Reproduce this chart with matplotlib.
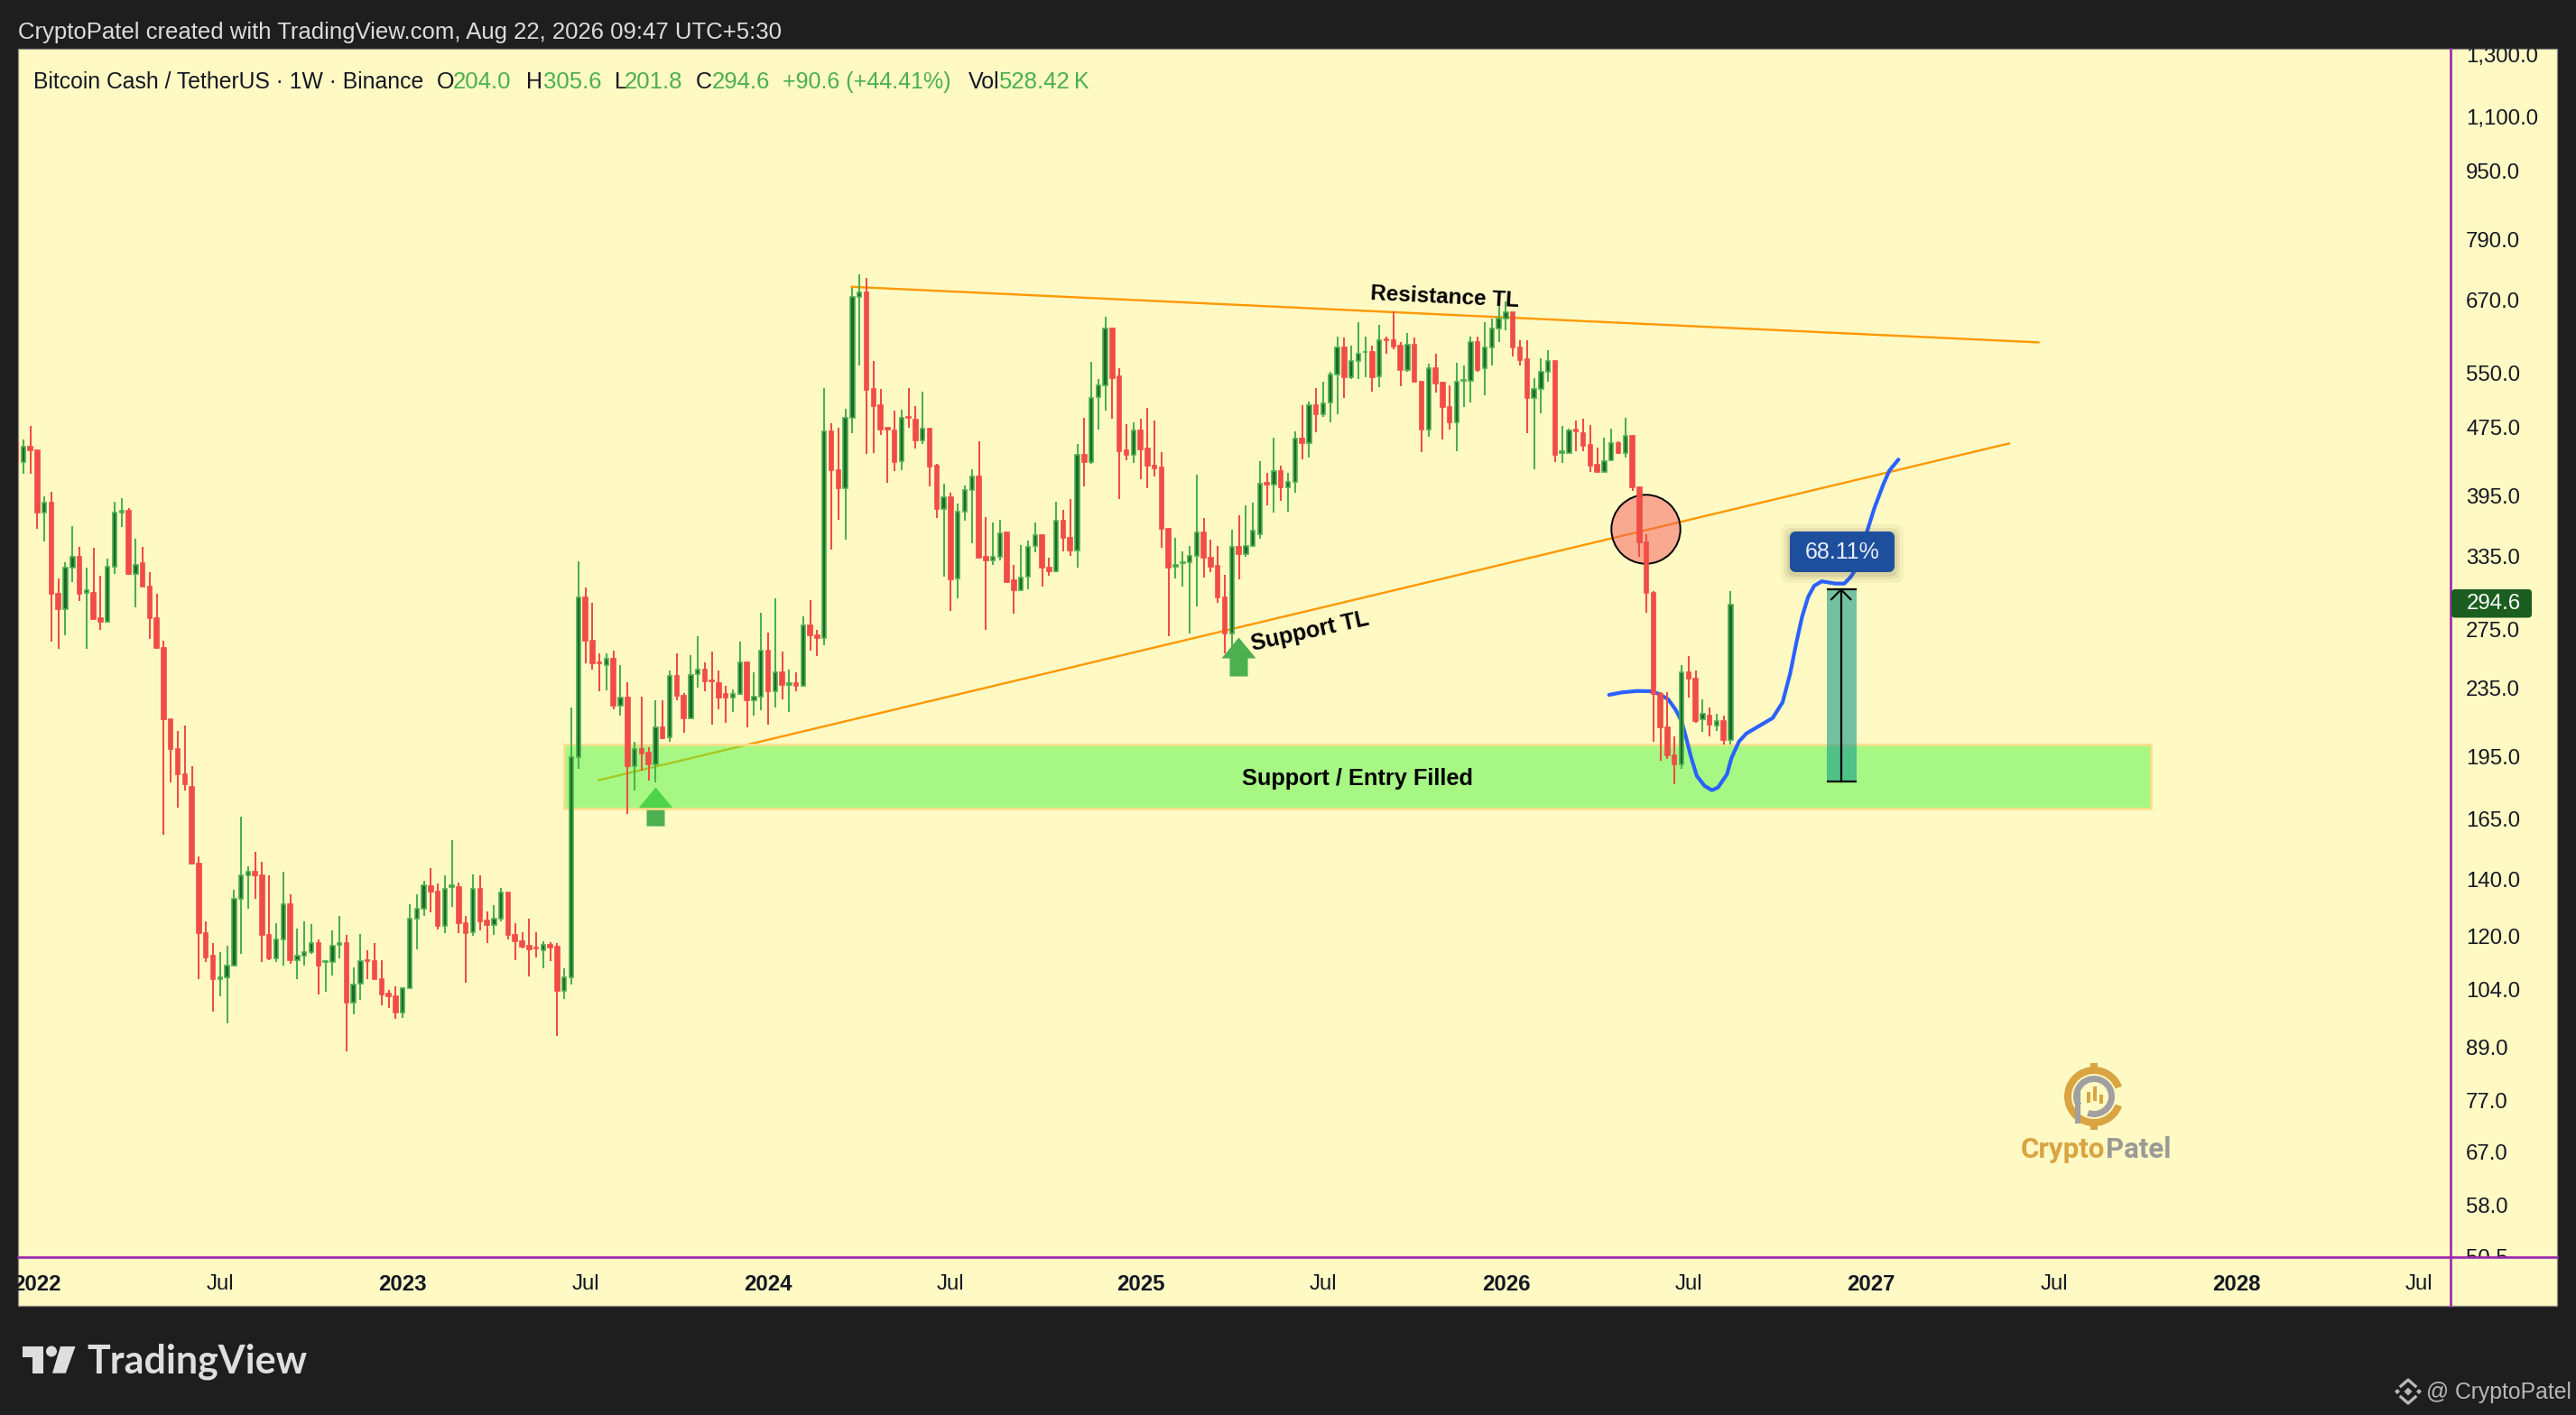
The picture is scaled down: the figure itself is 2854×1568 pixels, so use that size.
#!/usr/bin/env python
# -*- coding: utf-8 -*-

import matplotlib
matplotlib.use('Agg')
import matplotlib.pyplot as plt
import matplotlib.dates as mdates
import numpy as np
import pandas as pd
from matplotlib.lines import Line2D
from matplotlib.markers import MarkerStyle
from matplotlib.patches import FancyBboxPatch, Polygon, Rectangle, Wedge, Circle
from matplotlib.path import Path
from matplotlib.ticker import NullLocator
from matplotlib.transforms import Affine2D, Bbox

W, H = 2854, 1568
plt.rcParams['font.family'] = ['Liberation Sans', 'DejaVu Sans']

first_week = '2021-12-13'

opens = [457,433,451,447,377,388,303,291,325,335,
    304,304,284,281,326,377,379,320,329,309,
    284,262,216,199,186,180,146,121,114,107,
    107.5,111,133,141.5,143,141.5,120.5,113,119,131,
    112.5,114,115,118,112,112,117.3,118,100.5,105.6,
    112.5,112.3,107,102.8,102.2,97.7,104.5,126,129.5,137.5,
    135.5,123.5,137.3,137.3,124.5,121.3,136.5,125.2,123.7,126,
    135.2,120.5,118.5,117,116.4,115.5,117.4,116.8,103.7,107.5,
    195,300,267,252,250,254.5,224,229,190,199,
    197.3,191,211,205.5,243,230,216.5,244,247,239.5,
    238,231,228.7,231,252,227,229.5,260,233,245,
    237,238,236,278,271,269,470,423,403,487,
    676,684,527,504,475,471,434,489,485,459,
    474,428,381,393,315.5,378,401.5,416.5,334.5,332,
    335,357.5,314,306,317.5,344.5,355.5,325,322,369,
    352.5,341,441,433,516,532,621,545,447,441,
    471,449,428,426,361,325.7,329,330,336,358,
    334,327,300,272,344,337,345,356,409,407,
    422.5,404,410,461,455,504,492,508,548,590,
    544,569,582,582,545,603,601,593,555,594,
    538,472,558,536,502,482,539,539,598,557,
    590,620,637,649,590,571,515,527,552,569,
    443,443,472,468,453,429,421,435,455,443,
    464,404,348,304,231,211,196,191,245,241,
    216,218,212,215,204.0]

highs = [460,460,477,447,394,399,316,330,364,344,
    325,343,318,333,389,392,382,352,344,321,
    303,267,216,209,212,190,149,125,118,115,
    117,136,166,145,151,147,141.5,124.5,143,134.5,
    122.5,125,124,119,112.5,122,127,120.5,110.5,120.7,
    115.7,118,112.5,103.9,104.8,104.7,131,134.5,139.5,144.3,
    138.5,141.7,155.7,138.8,127,142,141.5,128.4,130.5,136.8,
    135.2,124.5,121.5,126,121.5,118.5,118.2,118,110,223,
    331,308,296,258,258,260,250,238.5,203,229.5,
    200,227,227,246,258,231.5,256.5,270,252,259,
    246,236.5,234,266,252.5,245,288,273,299,259,
    247,245,285,298,275,529,480,475,499.6,692,
    719,712,568,527,475,497,498,529,503,523,
    475,430,408,398,387,406,424,458,373,367,
    370,358,328,345.5,350,367,356,334,389,380,
    391,454,487,567,541,641,621,557,479,482,
    486,501,484,444,362,352.5,340,344.5,418,372,
    351,344.5,319,360,375,384.5,388,433.5,420,462,
    428,420,470,504,510,529,537,552,607,606,
    592,632,607,592,627,607,650,599,613,605,
    538,565,580,537,532,566,562,607,607,631,
    637,661,667,649,602,602,543,572,585,569,
    477,473,484,486,478,450,462,473,458,488,
    465,405,356,305,232,232,206,250,256,246,
    228,223,219,218,305.6]

lows = [433,419,419,361,349,266,261,271,313,297,
    261,283,275,280,320,363,319,292,309,268,
    261,158,182,170,178,146,107,112,98,102,
    95,111,114.5,129.5,133,112,112.5,112,111,111.5,
    107,111,114.4,102.5,103.3,108,113,88,97.3,101,
    107,107,99.7,99,96,96.4,104.4,116,127,128,
    122.4,121,130,121,106,120.2,122,117.8,120.5,125,
    119,112.5,116.2,107.7,113.4,110,112.4,91.7,101.4,105.4,
    189,251,247,233,233.5,222,218,167,178,188,
    183,182,204.5,203,227,208,216.5,235,233,213,
    222,214,220,230.7,211,218,221,213,223,228,
    220,233,235.5,260,256,264,341.5,370,351,468,
    562,442,443,465,409,422,423,475,449,454,
    405,372,317.5,289,299,369,347,334,275,328,
    332,312,287,306,307,339,309,318,321,340,
    336,325,405.5,430,472,497,486,391,435,432,
    413,403,416,343,270,316,309,272,293,317,
    321,296,258,262,315,335,344,352,385,377,
    390,378,398,436,438,469,489,482,492,515,
    542,542,544,523,530,580,587,531,552,537,
    444,463,522,460,472,446,502,508,552,518,
    562,599,618,575,562,468,424,494,538,433,
    432,443,445,446,421,421,421,435,442,438,
    400,335,288,203,193,194,181,189,229,214,
    208.5,206,209,201.8,201.8]

closes = [433,451,447,377,388,303,291,325,335,303,
    306,283,281,326,377,379,320,328,309,284,
    262,216,199,186,181,146,121,113.5,107,107.5,
    111,133,141.5,143,141.5,120.5,113,119,131,112.5,
    114,115,118,111,112.2,117,118,100.5,105.3,112.4,
    112.3,107,102.6,102,97.7,104.4,126,129.5,137.8,135.5,
    123.5,136.6,137.7,124.5,121,136.5,125,123.7,126,135.2,
    120.4,118.5,116.8,115.8,116.1,117.2,116.6,103.7,107.5,195,
    300,267,251,251,254,224,229,190,199,197,
    191,211,205,243,230,216.5,243.5,247,239,239,
    229,228.7,231,251.5,227,229.5,260,233,245,237,
    238,236,278,271,269,470,423,403,487,676,
    684,526,503,472,472,433,487,487,459,474,
    427,381,393,315,378.5,401.5,416.5,334,332,334.5,
    357,313,306,317,344,355,325,322,369,352.5,
    341,441,433,515,532,621,543,446,441,471,
    448,428,425,361,325,327.6,330,336,358,334,
    326,300,272,344,337,345,359,408.5,407,422,
    404,410,461,455,504,492,507,548,589,544,
    569,580,583,544,602,601,591,555,594,538,
    472,557,535,502,482,537,540,598,555,590,
    620,637,649,590,570,515,527,552,569,441,
    445,471,470,452,428,421,434,455,443,464,
    404,348,304,231,211,196,191,245,241,215,
    219,213,215,204,294.6]

price_ticks = [1300,1100,950,790,670,550,475,395,335,275,235,195,165,140,120,104,89,77,67,58,50.5]
price_labels = ['1,300.0','1,100.0','950.0','790.0','670.0','550.0','475.0','395.0','335.0','275.0',
    '235.0','195.0','165.0','140.0','120.0','104.0','89.0','77.0','67.0','58.0','50.5']
date_ticks = ['2022-01-03','2022-07-04','2023-01-02','2023-07-03','2024-01-01','2024-07-01','2025-01-06',
    '2025-07-07','2026-01-05','2026-07-06','2027-01-04','2027-07-05','2028-01-03','2028-07-03']
date_labels = ['2022','Jul','2023','Jul','2024','Jul','2025','Jul','2026','Jul','2027','Jul','2028','Jul']

# drawings, x in weekly bars counted from the first candle
resistance_bars = [118.9, 287.8]
resistance_prices = [694.7, 597.8]
support_bars = [82.9, 283.6]
support_prices = [183.1, 454.9]
zone_bars = [78.0, 303.8]
zone_prices = [169.7, 201.4]
arrow_bars = [90.9, 173.9]
arrow_prices = [179.8, 269.3]
circle_bar = 231.9
circle_price = 361.5
measure_bars = [257.7, 261.9]
measure_prices = [182.3, 306.5]
measure_mid = 259.7
projection_bars = [226.68,228.48,230.62,232.54,233.83,235.11,236.18,237.04,237.68,238.33,239.18,240.25,
    241.32,242.18,243.46,244.1,245.18,246.25,248.17,249.97,251.38,252.45,253.31,254.17,255.02,255.88,
    256.95,258.88,260.16,261.02,261.87,263.5,264.44,265.73,266.58,267.87]
projection_prices = [230.6,232.1,233.0,232.9,231.1,227.8,221.4,214.4,205.0,195.2,185.2,180.4,
    178.2,179.5,186.0,194.4,203.3,207.8,212.3,216.6,226.0,244.1,264.8,285.1,300.5,309.6,
    313.4,311.5,311.5,316.7,324.5,360.8,381.9,407.5,422.7,435.6]

RED = '#F14C46'
GREEN = '#4CAF50'
DARK_GREEN = '#1B6A2B'
PURPLE = '#9C27B0'
INK = '#131722'

fig = plt.figure(figsize=(W / 100, H / 100), dpi=100, facecolor='#1E1E1E')
# image pixels to figure, for the page furniture round the chart
pix = Affine2D().scale(1.0 / W, -1.0 / H).translate(0, 1) + fig.transFigure

fig.add_artist(Rectangle((20, 54), 2813, 1393, transform=pix, facecolor='#FFF9C4',
                         edgecolor='#8A8A80', linewidth=0.9, zorder=-1))

ax = fig.add_axes([20.0 / W, (H - 1393.0) / H, 2695.0 / W, 1339.0 / H])
ax.patch.set_alpha(0)

start = mdates.date2num(pd.Timestamp(first_week))
bar_x = lambda b: start + np.asarray(b, dtype=float) * 7
dates = pd.date_range(first_week, periods=len(closes), freq='7D')
x = mdates.date2num(dates)
opens_a, highs_a, lows_a, closes_a = [np.array(v, dtype=float) for v in (opens, highs, lows, closes)]
up = closes_a >= opens_a

ax.set_yscale('log')
ax.set_xlim(start + 1.8, start + 2425.1)
ax.set_ylim(50.46, 1322.0)

# trend lines and arrows sit under the zone
ax.plot(bar_x(resistance_bars), resistance_prices, color='#FF9800', lw=1.7, zorder=2)
ax.plot(bar_x(support_bars), support_prices, color='#FF9800', lw=1.7, zorder=2)
arrow_path = Path([(0, 0), (19, -23), (10, -23), (10, -43), (-10, -43), (-10, -23), (-19, -23), (0, 0)], closed=True)
ax.plot(bar_x(arrow_bars), arrow_prices, ls='none', marker=MarkerStyle(arrow_path), markersize=62,
        color=GREEN, mec='none', zorder=2)

# support zone
zx = bar_x(zone_bars)
ax.add_patch(Rectangle((zx[0], zone_prices[0]), zx[1] - zx[0], zone_prices[1] - zone_prices[0],
                       facecolor=(81 / 255, 247 / 255, 70 / 255, 0.5), edgecolor='#FFDD88', linewidth=1.8, zorder=3))

ax.plot(bar_x(circle_bar), circle_price, marker='o', markersize=55, mfc=(243 / 255, 91 / 255, 94 / 255, 0.5),
        mec='black', mew=1.4, zorder=3)

ax.plot(bar_x(projection_bars), projection_prices, color='#2962FF', lw=3.0, solid_capstyle='round',
        solid_joinstyle='round', zorder=3.5)

# measure tool
mx = bar_x(measure_bars)
ax.add_patch(Rectangle((mx[0], measure_prices[0]), mx[1] - mx[0], measure_prices[1] - measure_prices[0],
                       facecolor=(23 / 255, 157 / 255, 138 / 255, 0.6), edgecolor='none', zorder=3.6))
for pr in measure_prices:
    ax.plot(mx, [pr, pr], color='black', lw=1.6, zorder=3.7, solid_capstyle='butt')
ax.plot(bar_x([measure_mid, measure_mid]), measure_prices, color='black', lw=1.6, zorder=3.7)
ax.plot(bar_x([measure_mid - 1.37, measure_mid, measure_mid + 1.37]), [298.5, measure_prices[1], 298.5],
        color='black', lw=1.5, zorder=3.7)

# candles
ax.vlines(x[up], lows_a[up], highs_a[up], color=GREEN, lw=1.45, zorder=4)
ax.vlines(x[~up], lows_a[~up], highs_a[~up], color=RED, lw=1.45, zorder=4)
ax.bar(x[up], (closes_a - opens_a)[up], bottom=opens_a[up], width=4.0, facecolor=DARK_GREEN,
       edgecolor=GREEN, linewidth=1.2, zorder=5)
ax.bar(x[~up], (opens_a - closes_a)[~up], bottom=closes_a[~up], width=4.0, facecolor=RED,
       edgecolor=RED, linewidth=1.2, zorder=5)

# axes
for side in ['top', 'left', 'right', 'bottom']:
    ax.spines[side].set_visible(False)
ax.yaxis.tick_right()
ax.yaxis.set_minor_locator(NullLocator())
ax.set_yticks(price_ticks)
ax.set_yticklabels(price_labels)
ax.tick_params(axis='y', length=0, pad=12.3, labelsize=17.3, labelcolor=INK)
ax.set_xticks(mdates.date2num(pd.to_datetime(date_ticks)))
ax.set_xticklabels(date_labels)
ax.tick_params(axis='x', length=0, pad=13.5, labelsize=17.3, labelcolor=INK)
y_clip = Bbox.from_extents(2715, H - 1393, 2833, H - 54)
for t in ax.get_yticklabels():
    t.set_clip_box(y_clip)
    t.set_clip_on(True)
x_clip = Bbox.from_extents(20, H - 1447, 2715, H - 1393)
for t, s in zip(ax.get_xticklabels(), date_labels):
    t.set_clip_box(x_clip)
    t.set_clip_on(True)
    if s != 'Jul':
        t.set_fontweight('bold')

fig.add_artist(Line2D([2714.6, 2714.6], [54, 1447], transform=pix, color=PURPLE, lw=1.9))
fig.add_artist(Line2D([20, 2833], [1392.7, 1392.7], transform=pix, color=PURPLE, lw=1.9))

# last price tag
fig.add_artist(FancyBboxPatch((2716, 653), 89, 31.5, boxstyle='round,pad=0,rounding_size=4', transform=pix,
                              facecolor='#1B5E20', edgecolor='none', zorder=3))
fig.text(2733, 669.4, '294.6', transform=pix, color='white', fontsize=17.3, va='center', ha='left', zorder=4)

# texts on the chart
ax.text(bar_x(203.3), 674.6, 'Resistance TL', rotation=-2.8, rotation_mode='anchor', ha='center', va='center',
        fontsize=17.5, fontweight='bold', color='black', zorder=6)
ax.text(bar_x(184.1), 273.6, 'Support TL', rotation=12.5, rotation_mode='anchor', ha='center', va='center',
        fontsize=18, fontweight='bold', color='black', zorder=6)
ax.text(bar_x(190.9), 184.0, 'Support / Entry Filled', ha='center', va='center', fontsize=18.3,
        fontweight='bold', color='black', zorder=6)

# percent label of the measure tool
for grow, al in [(10, 0.05), (6, 0.07), (3, 0.1)]:
    fig.add_artist(FancyBboxPatch((1983 - grow, 589 - grow + 2), 116 + 2 * grow, 45 + 2 * grow,
                                  boxstyle='round,pad=0,rounding_size=9', transform=pix,
                                  facecolor=(0.25, 0.25, 0.1, al), edgecolor='none', zorder=2))
fig.add_artist(FancyBboxPatch((1983, 589), 116, 45, boxstyle='round,pad=0,rounding_size=7', transform=pix,
                              facecolor='#1E4F9C', edgecolor='none', zorder=3))
fig.text(2041, 612, '68.11%', transform=pix, color='#E8EEF8', fontsize=18, ha='center', va='center', zorder=4)

# header
fig.text(20, 36, 'CryptoPatel created with TradingView.com, Aug 22, 2026 09:47 UTC+5:30', transform=pix,
         color='#DDDDDD', fontsize=18.5, va='center')
legend_items = [(37, 'Bitcoin Cash / TetherUS · 1W · Binance', INK, 17.8), (484, 'O', INK, 18), (502, '204.0', GREEN, 18.5),
    (583, 'H', INK, 18), (602, '305.6', GREEN, 18.5), (681, 'L', INK, 18), (692, '201.8', GREEN, 18.5), (771, 'C', INK, 18),
    (789, '294.6', GREEN, 18.5), (867, '+90.6 (+44.41%)', GREEN, 18), (1073, 'Vol', INK, 18), (1107, '528.42', GREEN, 18.5),
    (1190, 'K', GREEN, 18)]
for lx, s, c, fs in legend_items:
    fig.text(lx, 90.7, s, transform=pix, color=c, fontsize=fs, va='center')

# TradingView mark
LOGO = '#DEDEDE'
fig.add_artist(Polygon([(24.5, 1492), (48, 1492), (48, 1521.7), (36, 1521.7), (36, 1504), (24.5, 1504)],
                       transform=pix, facecolor=LOGO, edgecolor='none'))
fig.add_artist(Circle((57, 1497.5), 6, transform=pix, facecolor=LOGO, edgecolor='none'))
fig.add_artist(Polygon([(67, 1492), (83.5, 1492), (72.8, 1521.7), (58, 1521.7)], transform=pix,
                       facecolor=LOGO, edgecolor='none'))
fig.text(96, 1521.7, 'TradingView', transform=pix, color=LOGO, fontsize=31, family='Lato', fontweight='bold',
         va='baseline')

# bottom right handle
HANDLE = '#B8B8B8'
fig.text(2687.5, 1542.7, '@ CryptoPatel', transform=pix, color=HANDLE, fontsize=17.8, va='center')
for cx, cy, r in [(2668, 1542, 4.5), (2656, 1542, 3), (2680, 1542, 3)]:
    fig.add_artist(Polygon([(cx - r, cy), (cx, cy - r), (cx + r, cy), (cx, cy + r)], transform=pix,
                           facecolor=HANDLE, edgecolor='none'))
for sgn in [-1, 1]:
    fig.add_artist(Line2D([2660, 2668, 2676], [1542 + sgn * 6, 1542 + sgn * 13, 1542 + sgn * 6], transform=pix,
                          color=HANDLE, lw=2.4))

# CryptoPatel logo
GOLD = '#D9A441'
GREY = '#A0A0A0'
fig.add_artist(Wedge((2320, 1215), 33, 20, 340, width=8, transform=pix, facecolor=GOLD, edgecolor='none'))
fig.add_artist(Rectangle((2316, 1178), 8, 5, transform=pix, facecolor=GOLD, edgecolor='none'))
fig.add_artist(Rectangle((2316, 1247), 8, 5, transform=pix, facecolor=GOLD, edgecolor='none'))
fig.add_artist(Wedge((2320, 1215), 23, -210, 110, width=7, transform=pix, facecolor=GREY, edgecolor='none'))
fig.add_artist(Rectangle((2299, 1205), 6, 40, transform=pix, facecolor=GREY, edgecolor='none'))
for cx, cy, h in [(2314, 1216, 12), (2321, 1212, 16), (2328, 1218, 10)]:
    fig.add_artist(Rectangle((cx - 2, cy - h / 2), 4, h, transform=pix, facecolor=GOLD, edgecolor='none'))
fig.text(2239, 1274, 'Crypto', transform=pix, color=GOLD, fontsize=22.5, family='Roboto', fontweight='bold', va='center')
fig.text(2333, 1274, 'Patel', transform=pix, color='#9A9A96', fontsize=22.5, family='Roboto', fontweight='bold', va='center')

fig.savefig('out.png', dpi=100, facecolor=fig.get_facecolor())
